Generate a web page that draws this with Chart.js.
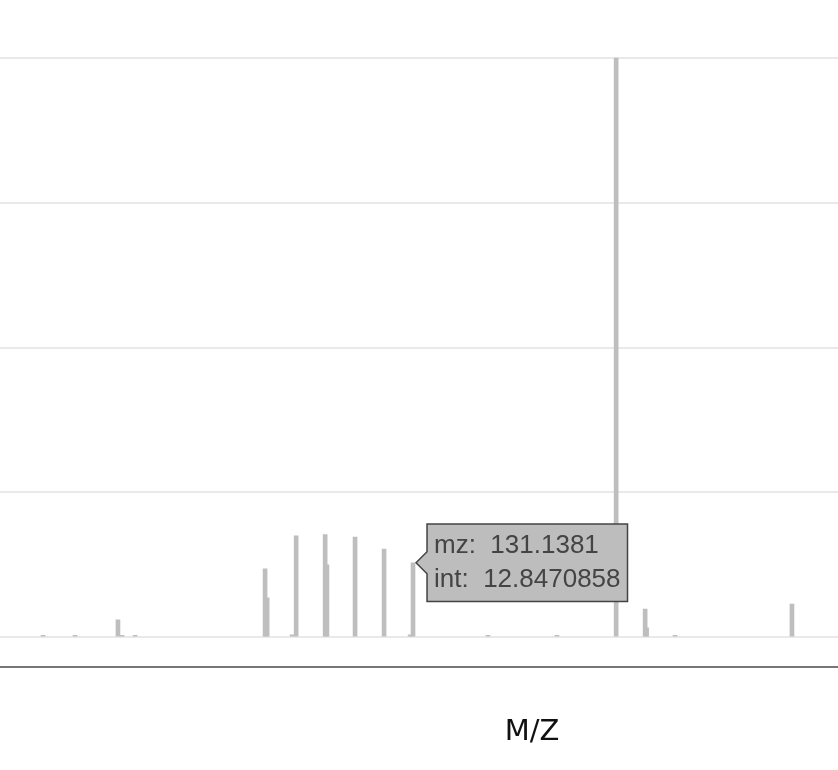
<!DOCTYPE html>
<html>
<head>
<meta charset="utf-8">
<script src="https://cdn.jsdelivr.net/npm/chart.js@4.4.1/dist/chart.umd.min.js"></script>
<style>
  html, body { margin: 0; padding: 0; overflow: hidden; background: #fff; }
  #wrap { width: 1064px; height: 770px; }
</style>
</head>
<body>
<div id="wrap"><canvas id="spectrumChart"></canvas></div>
<script>
// Peak list
const mzValues = [118.64, 119.72, 121.17, 121.31, 121.75, 126.14, 126.21, 127.05, 127.19,
  128.17, 128.23, 129.18, 130.16, 131.04, 131.1381, 133.67, 136.00, 138.00, 138.98, 139.03,
  139.99, 143.94];
const intensities = [0.3, 0.3, 3.0, 0.3, 0.3, 11.8, 6.8, 0.4, 17.5,
  17.7, 12.5, 17.3, 15.2, 0.4, 12.8470858, 0.3, 0.3, 100, 4.84, 1.6,
  0.3, 5.7];
const yTicks = [0, 25, 50, 75, 100];
const highlightedIndex = 14;

// tooltip anchored to the top of the bar
Chart.Tooltip.positioners.peakTop = function (items) {
  if (!items.length) return false;
  const el = items[0].element;
  return { x: el.x, y: el.y };
};

const ctx = document.getElementById('spectrumChart').getContext('2d');
const chart = new Chart(ctx, {
  type: 'bar',
  data: {
    datasets: [{
      label: 'int',
      data: mzValues.map((mz, i) => ({ x: mz, y: intensities[i] })),
      backgroundColor: '#bebebe',
      borderWidth: 0,
      barThickness: 4
    }]
  },
  options: {
    responsive: true,
    maintainAspectRatio: false,
    animation: false,
    events: [],
    layout: { padding: { top: 28, left: 0, right: 0, bottom: 0 } },
    scales: {
      x: {
        type: 'linear',
        offset: false,
        min: 117.185,
        max: 153.13,
        grid: { display: false, drawTicks: false },
        border: { display: true, color: '#777', width: 2 },
        ticks: { display: false },
        title: {
          display: true,
          text: 'M/Z',
          color: '#111',
          font: { family: 'DejaVu Sans, Verdana, sans-serif', size: 29 },
          padding: { top: 48, bottom: 20 }
        }
      },
      y: {
        min: -5.19,
        max: 105.19,
        afterBuildTicks: scale => { scale.ticks = yTicks.map(v => ({ value: v })); },
        grid: { color: '#e9e9e9', lineWidth: 2, drawTicks: false },
        border: { display: false },
        ticks: { display: false }
      }
    },
    plugins: {
      legend: { display: false },
      tooltip: {
        position: 'peakTop',
        xAlign: 'left',
        yAlign: 'center',
        backgroundColor: '#bdbdbd',
        borderColor: '#444',
        borderWidth: 1.5,
        bodyColor: '#444',
        bodyFont: { family: 'Liberation Sans, Arial, sans-serif', size: 26 },
        bodySpacing: 3,
        padding: { left: 7, right: 7, top: 6, bottom: 6 },
        cornerRadius: 0,
        caretSize: 11,
        caretPadding: 3,
        displayColors: false,
        callbacks: {
          title: () => '',
          label: c => ['mz:  ' + c.raw.x, 'int:  ' + c.raw.y]
        }
      }
    }
  }
});

chart.tooltip.setActiveElements([{ datasetIndex: 0, index: highlightedIndex }], { x: 0, y: 0 });
chart.update();
</script>
</body>
</html>
